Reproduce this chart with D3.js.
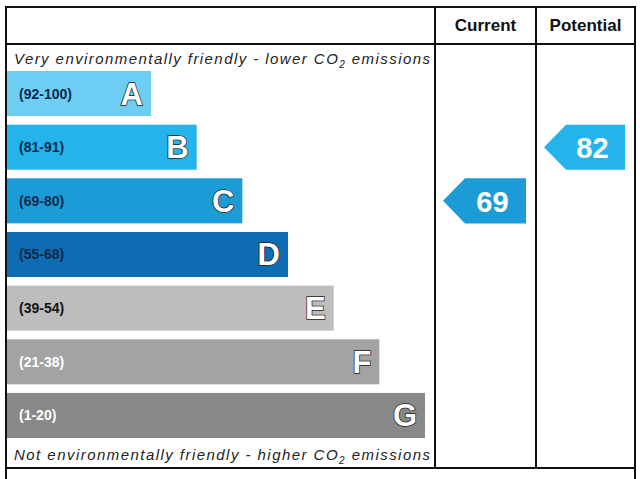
<!DOCTYPE html>
<html>
<head>
<meta charset="UTF-8">
<script src="https://cdn.jsdelivr.net/npm/d3@7"></script>
<style>
  body { margin: 0; background: #fff; font-family: "Liberation Sans", Arial, sans-serif; }
</style>
</head>
<body>
<script>
  // bands
  var letters = ["A", "B", "C", "D", "E", "F", "G"],
      ranges = ["(92-100)", "(81-91)", "(69-80)", "(55-68)", "(39-54)", "(21-38)", "(1-20)"],
      minScores = [92, 81, 69, 55, 39, 21, 1],
      colours = ["#6dcdf3", "#24b3ea", "#1c9cd6", "#0e6cb2", "#bdbdbd", "#a3a3a3", "#888888"],
      labelColours = ["#0d2a4d", "#0d2a4d", "#0d2a4d", "#0d2a4d", "#111", "#fff", "#fff"];
  var current = 69, potential = 82;

  var W = 640, H = 479;
  var svg = d3.select("body").append("svg").attr("width", W).attr("height", H);

  var x0 = 6, xCur = 435, xPot = 536, x1 = 635, yTop = 7, yHead = 44, yBot = 468;

  var y = d3.scaleBand().domain(letters).range([71, 438]).paddingInner(0.16).paddingOuter(0);
  var w = d3.scaleLinear().domain([0, 6]).range([144, 418]);

  function bandOf(v) { return letters[minScores.findIndex(function (m) { return v >= m; })]; }

  // frame
  var g = svg.append("g").attr("fill", "none").attr("stroke", "#111").attr("stroke-width", 2);
  g.append("rect").attr("x", x0).attr("y", yTop).attr("width", x1 - x0).attr("height", H + 10);
  g.append("line").attr("x1", x0).attr("x2", x1).attr("y1", yHead).attr("y2", yHead);
  g.append("line").attr("x1", x0).attr("x2", x1).attr("y1", yBot).attr("y2", yBot);
  g.append("line").attr("x1", xCur).attr("x2", xCur).attr("y1", yTop).attr("y2", yBot);
  g.append("line").attr("x1", xPot).attr("x2", xPot).attr("y1", yTop).attr("y2", yBot);

  svg.append("text").attr("x", (xCur + xPot) / 2).attr("y", 31).attr("text-anchor", "middle")
    .attr("font-weight", "bold").attr("font-size", 17).attr("fill", "#111").text("Current");
  svg.append("text").attr("x", (xPot + x1) / 2).attr("y", 31).attr("text-anchor", "middle")
    .attr("font-weight", "bold").attr("font-size", 17).attr("fill", "#111").text("Potential");

  function caption(yy, txt) {
    var t = svg.append("text").attr("x", 14).attr("y", yy).attr("font-style", "italic")
      .attr("font-size", 15).attr("fill", "#222").attr("textLength", 416);
    t.append("tspan").text(txt);
    t.append("tspan").attr("font-size", 10).attr("dy", 4).text("2");
    t.append("tspan").attr("dy", -4).text(" emissions");
  }
  caption(64, "Very environmentally friendly - lower CO");
  caption(460, "Not environmentally friendly - higher CO");

  var bars = svg.selectAll("g.bar").data(letters).enter().append("g").attr("class", "bar")
    .attr("transform", function (d) { return "translate(" + (x0 + 1) + "," + y(d) + ")"; });
  bars.append("rect").attr("width", function (d, i) { return w(i); })
    .attr("height", y.bandwidth()).attr("fill", function (d, i) { return colours[i]; });
  bars.append("text").attr("x", 12).attr("y", y.bandwidth() / 2 + 5)
    .attr("font-weight", "bold").attr("font-size", 14)
    .attr("fill", function (d, i) { return labelColours[i]; })
    .text(function (d, i) { return ranges[i]; });
  bars.append("text").attr("x", function (d, i) { return w(i) - 8; }).attr("y", y.bandwidth() / 2 + 11)
    .attr("text-anchor", "end").attr("font-weight", "bold").attr("font-size", 31)
    .attr("fill", "#fff").attr("stroke", "#222").attr("stroke-width", 1.5)
    .attr("paint-order", "stroke").text(function (d) { return d; });

  function arrow(value, left, right) {
    var b = bandOf(value), i = letters.indexOf(b);
    var yy = y(b), h = y.bandwidth(), tip = left + 8, body = tip + 22;
    svg.append("path")
      .attr("d", "M" + tip + "," + (yy + h / 2) + "L" + body + "," + yy + "L" + (right - 10) + "," + yy +
        "L" + (right - 10) + "," + (yy + h) + "L" + body + "," + (yy + h) + "Z")
      .attr("fill", colours[i]);
    svg.append("text").attr("x", (body + right - 10) / 2 - 3).attr("y", yy + h / 2 + 11)
      .attr("text-anchor", "middle").attr("font-weight", "bold").attr("font-size", 29)
      .attr("fill", "#fff").text(value);
  }
  arrow(current, xCur, xPot);
  arrow(potential, xPot, x1);
</script>
</body>
</html>
